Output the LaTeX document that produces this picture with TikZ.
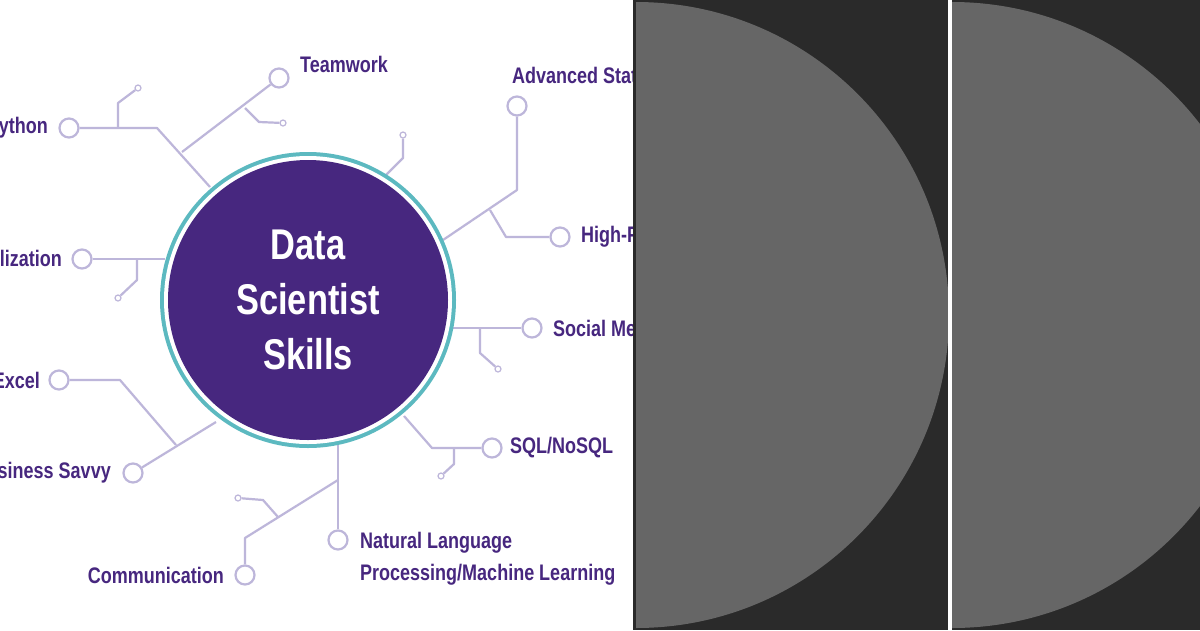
\documentclass[tikz,border=0pt]{standalone}
\usepackage{fontspec}
\setmainfont{Liberation Sans}[FakeStretch=0.8]
\definecolor{dpurple}{HTML}{47277F}
\definecolor{lav}{HTML}{BDB6DA}
\definecolor{teal1}{HTML}{5CB9C0}
\definecolor{darkbg}{HTML}{2A2A2A}
\definecolor{semi}{HTML}{666666}
\begin{document}
\begin{tikzpicture}[x=1pt,y=-1pt,
  ln/.style={draw=lav,line width=2.2pt,line join=round},
  bud/.style={circle,draw=lav,line width=2.2pt,fill=white,minimum size=19pt,inner sep=0pt},
  tip/.style={circle,draw=lav,line width=1.2pt,fill=white,minimum size=6pt,inner sep=0pt},
  lbl/.style={text=dpurple,font=\bfseries\fontsize{22.5}{26}\selectfont,inner sep=0pt},
  lblL/.style={lbl,anchor=west},
  lblR/.style={lbl,anchor=east}]
\useasboundingbox (0,0) rectangle (1200,630);
\fill[white] (0,0) rectangle (1200,630);
% branches
\coordinate (pyk) at (157,128); \coordinate (pyr) at (210,187);
\coordinate (tmj) at (182,152);
\node[bud] (py) at (69,128) {};
\node[bud] (tm) at (279,78) {};
\draw[ln] (py) -- (pyk) -- (pyr);
\draw[ln] (tm) -- (tmj);
\coordinate (pyt1) at (118,128); \coordinate (pyt2) at (118,103);
\node[tip] (pyt) at (138,88) {};
\draw[ln] (pyt1) -- (pyt2) -- (pyt);
\coordinate (tmt1) at (245,108); \coordinate (tmt2) at (259,122);
\node[tip] (tmt) at (283,123) {};
\draw[ln] (tmt1) -- (tmt2) -- (tmt);
% top right twig
\coordinate (trr) at (386,175); \coordinate (trk) at (403,158);
\node[tip] (trt) at (403,135) {};
\draw[ln] (trr) -- (trk) -- (trt);
% advanced / high
\node[bud] (adv) at (517,106) {};
\node[bud] (hig) at (560,237) {};
\coordinate (advk) at (517,190); \coordinate (advr) at (443,240);
\draw[ln] (adv) -- (advk) -- (advr);
\coordinate (hij) at (490,210); \coordinate (hik) at (506,237);
\draw[ln] (hij) -- (hik) -- (hig);
% visualization
\node[bud] (vis) at (82,259) {};
\coordinate (visr) at (165,259);
\draw[ln] (vis) -- (visr);
\coordinate (vist1) at (137,259); \coordinate (vist2) at (137,280);
\node[tip] (vist) at (118,298) {};
\draw[ln] (vist1) -- (vist2) -- (vist);
% social
\node[bud] (soc) at (532,328) {};
\coordinate (socr) at (452,328);
\draw[ln] (socr) -- (soc);
\coordinate (soct1) at (480,328); \coordinate (soct2) at (480,353);
\node[tip] (soct) at (498,369) {};
\draw[ln] (soct1) -- (soct2) -- (soct);
% excel / business
\node[bud] (exc) at (59,380) {};
\node[bud] (bus) at (133,473) {};
\coordinate (exck) at (120,380); \coordinate (excj) at (176,445);
\coordinate (busr) at (216,422);
\draw[ln] (exc) -- (exck) -- (excj);
\draw[ln] (bus) -- (busr);
% sql
\node[bud] (sql) at (492,448) {};
\coordinate (sqlr) at (404,416); \coordinate (sqlk) at (432,448);
\draw[ln] (sqlr) -- (sqlk) -- (sql);
\coordinate (sqlt1) at (454,448); \coordinate (sqlt2) at (454,464);
\node[tip] (sqlt) at (441,476) {};
\draw[ln] (sqlt1) -- (sqlt2) -- (sqlt);
% nlp / communication
\node[bud] (nlp) at (338,540) {};
\node[bud] (com) at (245,575) {};
\coordinate (nlpr) at (338,445); \coordinate (nlpj) at (338,480);
\coordinate (comk) at (245,538);
\draw[ln] (nlpr) -- (nlp);
\draw[ln] (nlpj) -- (comk) -- (com);
\coordinate (comt1) at (278,517); \coordinate (comt2) at (263,500);
\node[tip] (comt) at (238,498) {};
\draw[ln] (comt1) -- (comt2) -- (comt);
% center
\fill[teal1] (308,300) circle (148);
\fill[white] (308,300) circle (144);
\node[circle,fill=dpurple,minimum size=280pt,inner sep=0pt,text=white,align=center,
  font=\bfseries\fontsize{43}{55}\selectfont] (hub) at (308,300) {Data\\Scientist\\Skills};
% labels
\node[lblL] (ltm) at (300,64) {Teamwork};
\node[lblR] (lpy) at (48,128) {Python};
\node[lblR] (lvis) at (62,258) {Data Visualization};
\node[lblR] (lexc) at (40,380) {Excel};
\node[lblR] (lbus) at (111,473) {Business Savvy};
\node[lblR] (lcom) at (224,575) {Communication};
\node[lblL,align=left,font=\bfseries\fontsize{22.5}{32}\selectfont] (lnlp) at (360,559) {Natural Language\\Processing/Machine Learning};
\node[lblL] (lsql) at (510,448) {SQL/NoSQL};
\node[lblL] (lsoc) at (553,328) {Social Media};
\node[lblL] (lhig) at (581,237) {High-Performance Computing};
\node[lblL] (ladv) at (512,75) {Advanced Statistics};
% right panel
\fill[darkbg] (633,0) rectangle (1200,630);
\begin{scope}
\clip (636,0) rectangle (948,630);
\fill[semi] (636,315) circle (313);
\end{scope}
\fill[white] (948,0) rectangle (952,630);
\begin{scope}
\clip (952,0) rectangle (1200,630);
\fill[semi] (952,315) circle (313);
\end{scope}
\end{tikzpicture}
\end{document}
